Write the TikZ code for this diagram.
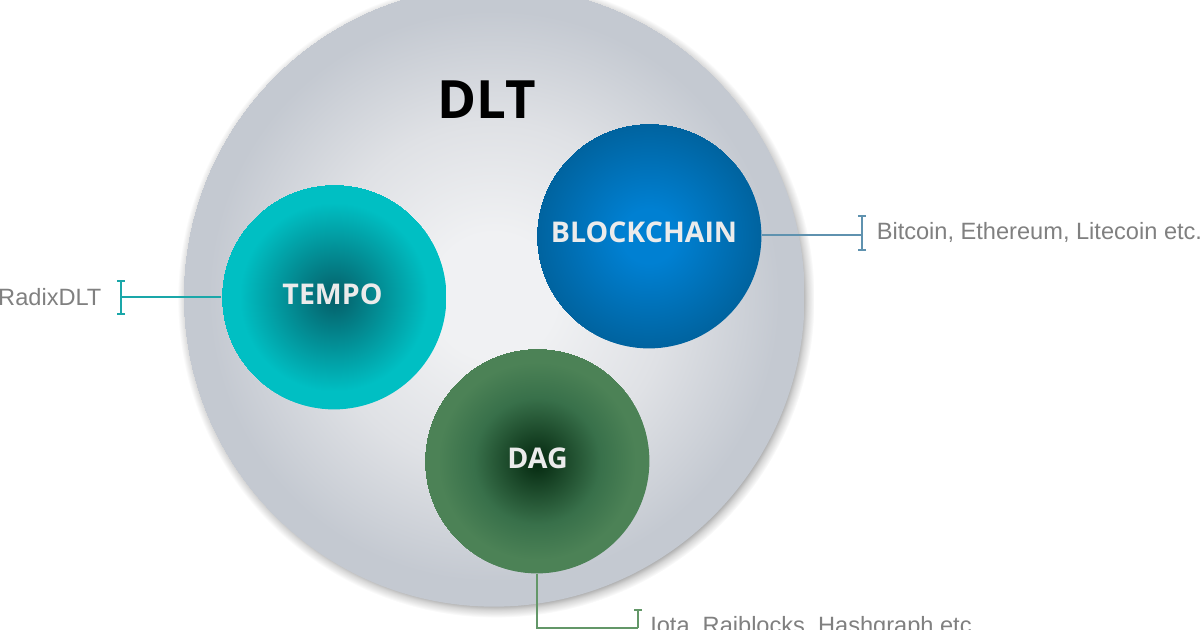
\documentclass[tikz,border=0pt]{standalone}
\usepackage{fontspec}
\setmainfont{Liberation Sans}
\newfontfamily\headfont{Open Sans}
\usetikzlibrary{arrows.meta}
\usetikzlibrary{positioning}
\definecolor{tempoline}{HTML}{1AA7A9}
\definecolor{chainline}{HTML}{5F92AF}
\definecolor{dagline}{HTML}{639768}
\definecolor{labelgray}{HTML}{808080}
\definecolor{dltmid}{HTML}{F0F1F3}
\definecolor{dltring}{HTML}{DFE1E5}
\definecolor{dltedge}{HTML}{C4C9D1}
\definecolor{chainmid}{HTML}{0080D2}
\definecolor{chainedge}{HTML}{00639F}
\definecolor{tempomid}{HTML}{055E68}
\definecolor{tempoouter}{HTML}{00BFC3}
\definecolor{dagmid}{HTML}{04280F}
\definecolor{dagring}{HTML}{38704A}
\definecolor{dagouter}{HTML}{4C8256}
\pgfdeclareradialshading{dltshade}{\pgfpoint{0bp}{0bp}}{
  color(0bp)=(dltmid); color(5bp)=(dltmid); color(14bp)=(dltring); color(23bp)=(dltedge); color(25bp)=(dltedge)}
\pgfdeclareradialshading{haloshade}{\pgfpoint{0bp}{0bp}}{
  color(0bp)=(black!42); color(23.8bp)=(black!42); color(24.4bp)=(black!16); color(25bp)=(white)}
\pgfdeclareradialshading{chainshade}{\pgfpoint{0bp}{0bp}}{
  color(0bp)=(chainmid); color(6bp)=(chainmid); color(25bp)=(chainedge)}
\pgfdeclareradialshading{temposhade}{\pgfpoint{0bp}{0bp}}{
  color(0bp)=(tempomid); color(21bp)=(tempoouter); color(25bp)=(tempoouter)}
\pgfdeclareradialshading{dagshade}{\pgfpoint{0bp}{0bp}}{
  color(0bp)=(dagmid); color(14bp)=(dagring); color(22bp)=(dagouter); color(25bp)=(dagouter)}
\tikzstyle{disc} = [circle, minimum size=168.6pt, inner sep=0pt]
\tikzstyle{disctext} = [inner sep=0pt, text=white!92!black,
    font=\headfont\bfseries\fontsize{21.4}{24}\selectfont]
\tikzstyle{note} = [anchor=west, inner sep=0pt, text=labelgray,
    font=\fontsize{17.7}{20}\selectfont]
\tikzstyle{link} = [draw, line width=1.8pt]
\tikzstyle{bar} = [draw, line width=2.2pt, {Bar[width=6pt,line width=1.3pt]}-{Bar[width=6pt,line width=1.3pt]}]

\begin{document}
\begin{tikzpicture}[x=0.75pt, y=-0.75pt]
  \useasboundingbox (0,0) rectangle (1200,630);
  \clip (0,0) rectangle (1200,630);
  % Place nodes
  \node [circle, minimum size=478pt, inner sep=0pt, shading=haloshade] (halo) at (496,299) {};
  \node [circle, minimum size=466pt, inner sep=0pt, shading=dltshade] (dlt) at (494,296) {};
  \node [inner sep=0pt, font=\headfont\bfseries\fontsize{39.6}{44}\selectfont] (title) at (487,100) {DLT};
  \node [disc, shading=chainshade] (chain) at (649,236) {};
  \node [disc, shading=temposhade] (tempo) at (334,297) {};
  \node [disc, shading=dagshade] (dag) at (537,461) {};
  \node [disctext] (chaintext) at (644,232) {BLOCKCHAIN};
  \node [disctext] (tempotext) at (332.5,294) {TEMPO};
  \node [disctext] (dagtext) at (537.5,458) {DAG};
  % Draw edges
  \coordinate (chaintop) at (862,215);
  \coordinate (chainbot) at (862,251);
  \coordinate (chainend) at (862,235);
  \coordinate (tempotop) at (121,280);
  \coordinate (tempobot) at (121,315);
  \coordinate (tempoend) at (121,297);
  \coordinate (dagtop) at (638,609);
  \coordinate (dagbot) at (638,628);
  \path [link, chainline] (chain.east |- chainend) -- (chainend);
  \path [bar, chainline] (chaintop) -- (chainbot);
  \path [link, tempoline] (tempo.west) -- (tempoend);
  \path [bar, tempoline] (tempotop) -- (tempobot);
  \path [link, dagline] (dag.south) |- (dagbot);
  \path [bar, dagline, {Bar[width=6pt,line width=1.3pt]}-] (dagtop) -- (dagbot);
  % Place labels
  \node [note] (chainnote) at (876.5,232) {Bitcoin, Ethereum, Litecoin etc.};
  \node [note, anchor=east, left=14.5pt of tempoend] (temponote) {RadixDLT};
  \node [note] (dagnote) at (650,627) {Iota, Raiblocks, Hashgraph etc.};
\end{tikzpicture}
\end{document}
